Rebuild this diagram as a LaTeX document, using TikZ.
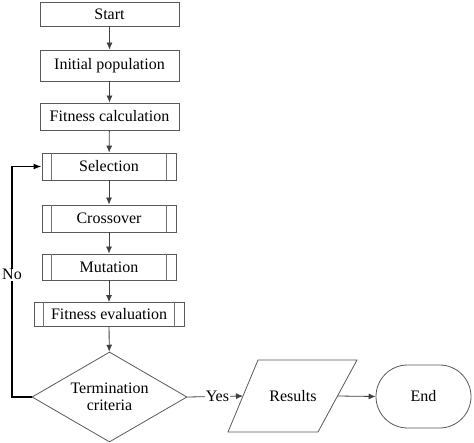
\documentclass[tikz,border=0pt]{standalone}
\usepackage{fontspec}
\setmainfont{Liberation Serif}
\usetikzlibrary{shapes.geometric,shapes.misc,arrows.meta}
\begin{document}
\begin{tikzpicture}[x=1pt,y=-1pt,
  font=\fontsize{16}{18}\selectfont,
  box/.style={draw=black!65, line width=0.8pt, rectangle, minimum height=#1, inner sep=0pt},
  box/.default=27pt,
  arr/.style={draw=black!75, line width=0.8pt, -{Latex[length=7pt,width=6pt]}},
  loop/.style={draw=black, line width=1.4pt, -{Latex[length=8pt,width=6pt]}},
  sub/.style={draw=black!55, line width=0.6pt}
]
\useasboundingbox (0,0) rectangle (474,443);
\node[box=24pt, minimum width=139pt] (start) at (109.5,14) {Start};
\node[box=31pt, minimum width=139pt] (init) at (109.5,65.5) {Initial population};
\node[box=27pt, minimum width=139pt] (fitc) at (109.5,116.5) {Fitness calculation};
\node[box=27pt, minimum width=134pt] (sel) at (109,166.5) {Selection};
\node[box=27pt, minimum width=134pt] (cross) at (109,218.5) {Crossover};
\node[box=26pt, minimum width=134pt] (mut) at (109,267) {Mutation};
\node[box=24pt, minimum width=150pt] (fite) at (109,314.5) {Fitness evaluation};
\foreach \n in {sel,cross,mut}{
  \draw[sub] ([xshift=10pt]\n.north west) -- ([xshift=10pt]\n.south west);
  \draw[sub] ([xshift=-10pt]\n.north east) -- ([xshift=-10pt]\n.south east);
}
\draw[sub] ([xshift=10pt]fite.north west) -- ([xshift=10pt]fite.south west);
\draw[sub] ([xshift=-10pt]fite.north east) -- ([xshift=-10pt]fite.south east);
\node[diamond, draw=black!65, line width=0.8pt, minimum width=155pt, minimum height=90pt, inner sep=0pt, aspect=1.7, align=center, font=\fontsize{16}{17}\selectfont] (term) at (109.5,397) {Termination\\criteria};
\node (res) at (293,396) {Results};
\draw[draw=black!65, line width=0.8pt] (228,432) -- (258,360) -- (357,360) -- (318,432) -- cycle;
\coordinate (resL) at (243,396);
\coordinate (resR) at (337.5,396);
\node[rounded rectangle, draw=black!65, line width=0.8pt, minimum width=95pt, minimum height=63pt, inner sep=0pt] (endn) at (423.5,396.5) {End};
\draw[arr] (start) -- (init);
\draw[arr] (init) -- (fitc);
\draw[arr] (fitc) -- (sel);
\draw[arr] (sel) -- (cross);
\draw[arr] (cross) -- (mut);
\draw[arr] (mut) -- (fite);
\draw[arr] (fite) -- (term);
\coordinate (lb) at (12,397);
\coordinate (lt) at (12,166.5);
\draw[loop] (term.west) -- (lb) -- node[fill=white, inner sep=1pt, pos=0.53] (no) {No} (lt) -- (sel.west);
\draw[arr] (term.east) -- node[fill=white, inner sep=1pt, pos=0.54] (yes) {Yes} (resL);
\draw[arr] (resR) -- (endn.west);
\end{tikzpicture}
\end{document}
